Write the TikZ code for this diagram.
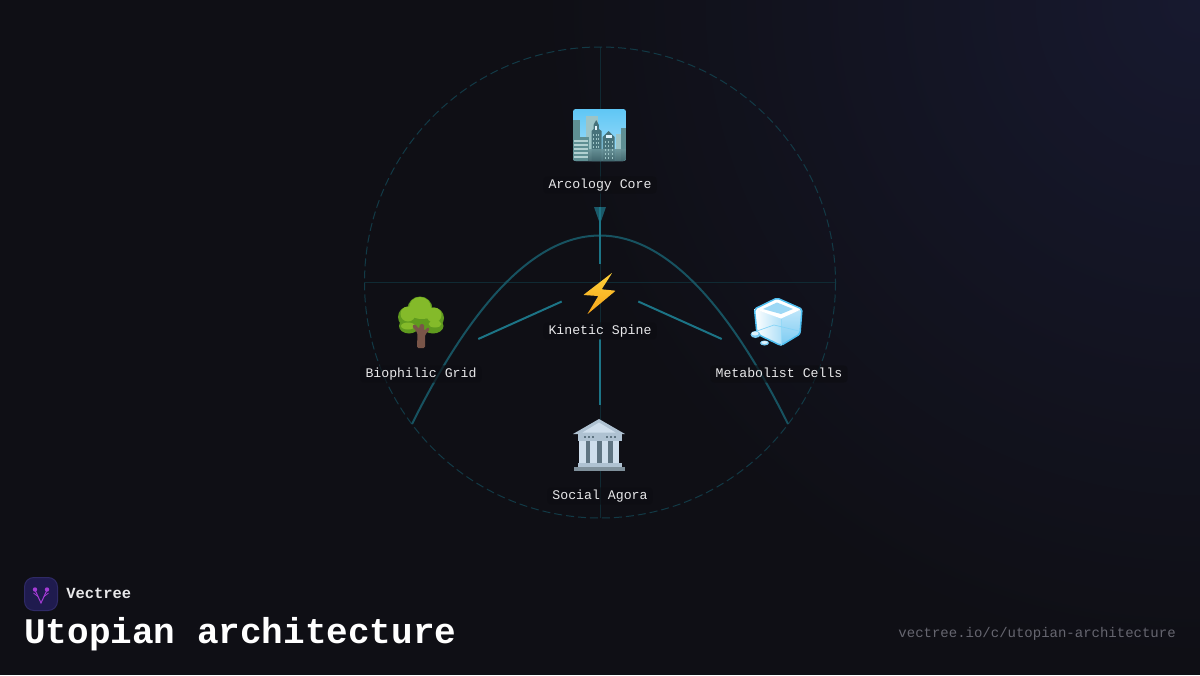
\documentclass[tikz,border=0pt]{standalone}
\usepackage{xcolor}
\usepackage{fontspec}
\setmainfont{Liberation Sans}
\setmonofont{Liberation Mono}
\usetikzlibrary{arrows.meta, shapes.geometric}
\definecolor{pagebg}{HTML}{0F0F15}
\definecolor{pageglow}{HTML}{17192F}
\definecolor{labelbg}{HTML}{0D0D12}
\definecolor{guideteal}{HTML}{102A33}
\definecolor{ringteal}{HTML}{123A46}
\definecolor{curveteal}{HTML}{175260}
\definecolor{linkteal}{HTML}{1C7486}
\definecolor{tipteal}{HTML}{1B5A6A}
\definecolor{textmain}{HTML}{E8E8EA}
\definecolor{urlgrey}{HTML}{666670}
\definecolor{logofill}{HTML}{1F1B4E}
\definecolor{logoline}{HTML}{2F2A66}
\definecolor{logopurple}{HTML}{A53BD6}
\definecolor{sky}{HTML}{5EC6F5}
\definecolor{bldlight}{HTML}{9DC4C6}
\definecolor{bldmid}{HTML}{5F8F93}
\definecolor{blddark}{HTML}{47727A}
\definecolor{bark}{HTML}{795548}
\definecolor{leafdark}{HTML}{5F9A1E}
\definecolor{leaflight}{HTML}{84BA2A}
\definecolor{boltyellow}{HTML}{FFD23A}
\definecolor{boltorange}{HTML}{F5A31A}
\definecolor{icelight}{HTML}{7CCBF2}
\definecolor{icemid}{HTML}{BFE6FA}
\definecolor{iceedge}{HTML}{4FC0F2}
\definecolor{stonelight}{HTML}{CFDEEC}
\definecolor{stonemid}{HTML}{AFC2D2}
\definecolor{stonedark}{HTML}{5F7482}
\tikzstyle{hubbox} = [rectangle, minimum width=76*0.75pt, minimum height=75*0.75pt, inner sep=0pt]
\tikzstyle{sidebox} = [rectangle, minimum width=114*0.75pt, minimum height=84*0.75pt, inner sep=0pt]
\tikzstyle{label} = [font=\ttfamily\fontsize{9.9pt}{12pt}\selectfont, text=textmain, fill=labelbg, fill opacity=0.65, text opacity=1, rounded corners=3pt, inner xsep=4pt, inner ysep=2pt, text height=7pt, text depth=2pt]
\tikzstyle{guide} = [line width=0.75pt, draw=guideteal]
\tikzstyle{link} = [line width=1.5pt, draw=linkteal]
\tikzset{
    cityicon/.pic={
        \begin{scope}
            \clip[rounded corners=2pt] (-26.5,-26) rectangle (26.5,26);
            \shade[top color=sky, bottom color=sky!55!white] (-27,-27) rectangle (27,27);
            \fill[bldlight] (-14,-19) rectangle (-2,26);
            \fill[bldlight] (16,-1) rectangle (22,26);
            \fill[bldmid] (-27,-15) rectangle (-20,26);
            \fill[bldmid] (21.5,-7) rectangle (27,26);
            \fill[bldmid] (-27,2) rectangle (-11,26);
            \foreach \stripe in {5,9,13,17,21}
                \fill[bldlight!80!white] (-26,\stripe) rectangle (-12,\stripe+1.8);
            \fill[blddark] (-6,-6) -- (-6,-10) -- (-3.3,-15) -- (-0.6,-10) -- (-0.6,-6) -- (2,-4) -- (2,26) -- (-8,26) -- (-8,-4) -- cycle;
            \fill[white!85!sky] (-4.3,-9.5) rectangle (-2.3,-5.5);
            \fill[blddark] (6,-1) -- (9,-4) -- (12,-1) -- (15,2) -- (15,26) -- (3,26) -- (3,2) -- cycle;
            \fill[white!80!sky] (6,0) rectangle (12,3);
            \foreach \wx in {-6,-3.3,-0.6}
                \foreach \wy in {-1,3,7,11}
                    \fill[bldlight] (\wx-0.5,\wy) rectangle (\wx+0.5,\wy+1.5);
            \shade[top color=blddark!60!bldlight, bottom color=blddark!85!black, opacity=0.9] (-11,14) rectangle (27,27);
            \foreach \wx in {5.5,9,12.5}
                \foreach \wy in {6,10,14,18,22}
                    \fill[bldlight] (\wx-0.5,\wy) rectangle (\wx+0.5,\wy+1.5);
        \end{scope}
    },
    treeicon/.pic={
        \fill[leafdark] (-12.5,-6) circle (10.5) (12.5,-5) circle (10.5) (-1,-14) circle (12.5) (-12,3) ellipse (10 and 7.5) (12,3) ellipse (10.5 and 7.5) (0,-2) circle (11);
        \fill[leaflight] (-13,-9) circle (7.5) (13,-8) circle (7.5) (-1,-15) circle (11) (1,-9) ellipse (11 and 5);
        \fill[leaflight] (-13,3) ellipse (7 and 3.5) (14,1) ellipse (6.5 and 3.5);
        \fill[bark, rounded corners=1pt] (-4,25) -- (-3.5,10) -- (-9,3) -- (-6,1) -- (-2,6) -- (-1,1) -- (3,1) -- (3,8) -- (7,4) -- (9,6) -- (4,12) -- (4,25) -- cycle;
    },
    bolticon/.pic={
        \shade[top color=boltyellow, bottom color=boltorange, rounded corners=0.5pt] (13.3,-20.8) -- (-15.7,1.5) -- (-0.7,2.5) -- (-11.7,20.8) -- (16.7,-2.8) -- (2.7,-4.2) -- cycle;
    },
    cubeicon/.pic={
        \fill[icemid] (-23,-13) -- (3,-5) -- (24,-13) -- (22,12) -- (3,23.5) -- (-21,12) -- cycle;
        \shade[left color=white, right color=icelight!60!white] (-23.5,-13) -- (3,-4) -- (3,23.5) -- (-21,12) -- cycle;
        \shade[top color=icemid, bottom color=icelight] (3,-4) -- (24,-13) -- (22,12) -- (3,23.5) -- cycle;
        \fill[white] (-23.5,-13) -- (-1,-24) -- (24,-13) -- (3,-3.5) -- cycle;
        \fill[icelight!75!white] (-15,-13) -- (-1,-19.5) -- (15,-13) -- (3,-8) -- cycle;
        \draw[iceedge, line width=1.1pt, line join=round, rounded corners=1.5pt] (-23.5,-13) -- (-1,-24) -- (24,-13) -- (22,12) -- (3,23.5) -- (-21,12) -- cycle;
        \draw[iceedge!60!white, line width=0.7pt] (3,-3) -- (3,23);
        \draw[iceedge!70!white, line width=0.5pt] (-21,9) -- (-4,3) -- (21,9);
        \fill[icelight] (-22.5,12.5) ellipse (5 and 3.5) (-13.5,21) ellipse (4.5 and 2.5);
        \fill[white!75!icelight] (-23,11.5) ellipse (3.5 and 2) (-13.5,20.5) ellipse (3 and 1.4);
    },
    templeicon/.pic={
        \fill[stonedark] (-14,-5) rectangle (14,20);
        \foreach \colx in {-17,-6,5.5,16.5}
            \fill[stonelight] (\colx-3.4,-4) rectangle (\colx+3.4,20);
        \fill[stonemid] (-22,-11) rectangle (22,-4);
        \foreach \dotx in {-15,-11,-7,7,11,15}
            \fill[stonedark] (\dotx-1,-9) rectangle (\dotx+1,-7);
        \fill[stonemid] (-26.5,-11) -- (-0.5,-26) -- (25.5,-11) -- cycle;
        \fill[stonelight] (-17,-12.5) -- (-0.5,-22.5) -- (16,-12.5) -- cycle;
        \fill[stonemid] (-22,18) rectangle (22,22);
        \fill[stonedark!80!white] (-26,22) rectangle (25,26);
    }
}

\begin{document}
\begin{tikzpicture}[x=0.75pt, y=-0.75pt]
    \useasboundingbox (0,0) rectangle (1200,675);
    \fill[pagebg] (0,0) rectangle (1200,675);
    \begin{scope}
        \clip (0,0) rectangle (1200,675);
        \shade[inner color=pageglow, outer color=pagebg] (1200,0) circle (660);
    \end{scope}

    \node[hubbox] (spine) at (600,301.5) {};
    \node[sidebox] (core) at (600,165) {};
    \node[sidebox] (grid) at (421,339) {};
    \node[sidebox] (cells) at (779,339) {};
    \node[sidebox] (agora) at (600,447) {};
    \coordinate (ringtop) at (600,47);
    \coordinate (ringbot) at (600,518);
    \coordinate (ringleft) at (365,282);
    \coordinate (ringright) at (835,282);
    \coordinate (arcleft) at (412,424);
    \coordinate (arcright) at (788,424);

    \draw[guide] (ringtop) -- (ringbot);
    \draw[guide] (ringleft) -- (ringright);
    \draw[line width=0.75pt, draw=ringteal, dash pattern=on 6pt off 3pt] (600,282.5) circle (235.5);
    \draw[line width=1.5pt, draw=curveteal] (arcleft) .. controls (537.3,172.7) and (662.7,172.7) .. (arcright);

    \draw[link] (spine.north) -- (600,222);
    \fill[tipteal] (594,207) -- (606,207) -- (600,224) -- cycle;
    \draw[line width=1pt, draw=linkteal] (spine.north) -- (core.south);
    \draw[link] (spine.west) -- (grid.east);
    \draw[link] (spine.east) -- (cells.west);
    \draw[link] (spine.south) -- (agora.north);

    \pic at (599.5,135) {cityicon};
    \pic at (421,323) {treeicon};
    \pic at (599,293.5) {bolticon};
    \pic at (778,322) {cubeicon};
    \pic at (599.5,445) {templeicon};

    \node[label] (corelbl) at (600,185) {Arcology Core};
    \node[label] (spinelbl) at (600,331) {Kinetic Spine};
    \node[label] (gridlbl) at (421,374) {Biophilic Grid};
    \node[label] (cellslbl) at (779,374) {Metabolist Cells};
    \node[label] (agoralbl) at (600,496) {Social Agora};

    \node[draw=logoline, fill=logofill, line width=0.75pt, rounded corners=7pt, minimum width=33*0.75pt, minimum height=33*0.75pt, inner sep=0pt] (logo) at (41,594) {};
    \draw[logopurple, line width=0.75pt] (35,590) -- (41,603) -- (47,590);
    \draw[logopurple, line width=0.6pt] (33.5,593) -- (38,596.5) (48.5,593) -- (44,596.5);
    \fill[logopurple] (35,589.5) circle (2.2) (47,589.5) circle (2.2);
    \node[anchor=west, inner sep=0pt, text=textmain, font=\ttfamily\bfseries\fontsize{11.6pt}{14pt}\selectfont] (brand) at (66,593) {Vectree};
    \node[anchor=west, inner sep=0pt, text=white, font=\ttfamily\bfseries\fontsize{27pt}{32pt}\selectfont] (title) at (24,634.5) {Utopian architecture};
    \node[anchor=east, inner sep=0pt, text=urlgrey, font=\ttfamily\fontsize{10.5pt}{13pt}\selectfont] (url) at (1176,633.5) {vectree.io/c/utopian-architecture};
\end{tikzpicture}
\end{document}
